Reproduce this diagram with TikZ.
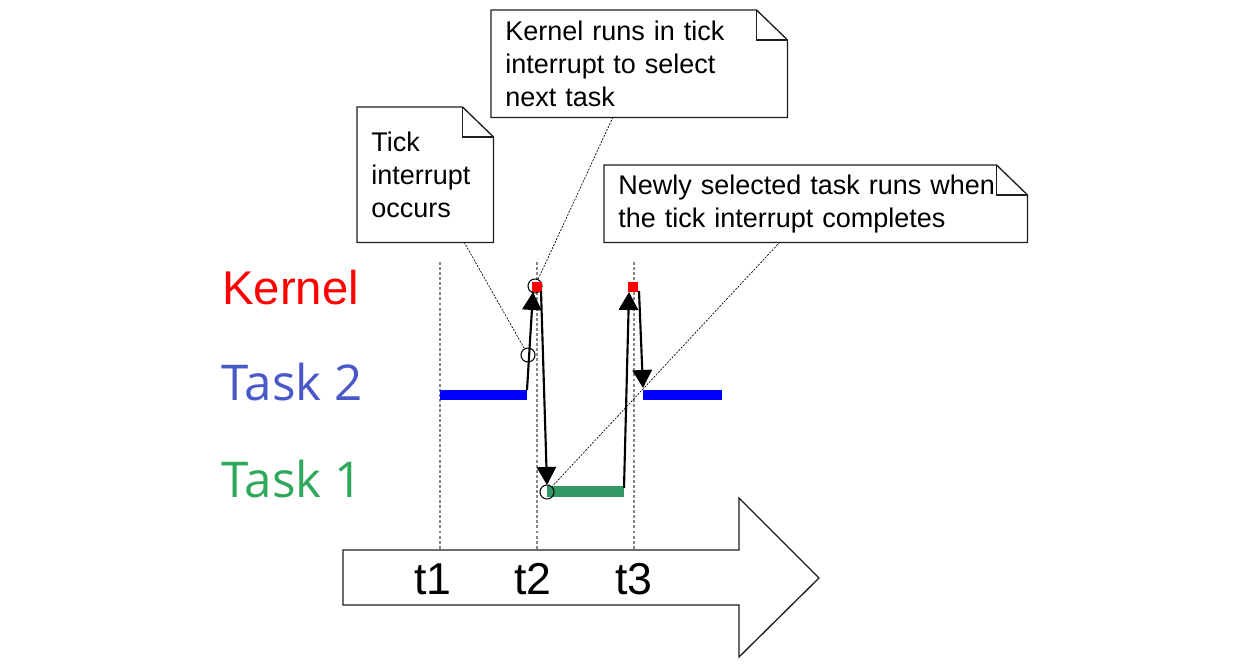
\documentclass[tikz,border=0pt]{standalone}
\usepackage{fontspec}
\setmainfont{Liberation Sans}
\newfontfamily\taskfont{Open Sans}
\usetikzlibrary{arrows.meta,calc}
\definecolor{kred}{RGB}{255,0,0}
\definecolor{ttwo}{RGB}{72,88,200}
\definecolor{tone}{RGB}{46,168,90}
\definecolor{bartwo}{RGB}{0,0,255}
\definecolor{barone}{RGB}{51,153,102}
\definecolor{guide}{RGB}{135,135,135}
\definecolor{ink}{RGB}{30,30,30}
\newcommand{\notebox}[1]{%
  \draw[noteline] (#1.north west) -- ($(#1.north east)+(-31,0)$) -- ($(#1.north east)+(0,30)$)
    -- (#1.south east) -- (#1.south west) -- cycle;
  \draw[noteline] ($(#1.north east)+(-31,0)$) -- ($(#1.north east)+(-31,30)$) -- ($(#1.north east)+(0,30)$);}
\begin{document}
\begin{tikzpicture}[x=0.75pt,y=-0.75pt,
  note/.style={anchor=north west, inner xsep=10.5pt, inner ysep=0pt, align=left,
    font=\fontsize{20.25}{24.75}\selectfont},
  noteline/.style={draw=ink, line width=1pt, line join=miter},
  rowlabel/.style={anchor=base west, inner sep=0pt},
  tlabel/.style={anchor=base, inner sep=0pt, font=\fontsize{33.5}{36}\selectfont},
  guideline/.style={draw=guide, line width=1.2pt, dash pattern=on 2.2pt off 1.6pt},
  callout/.style={draw=black, line width=0.5pt, dash pattern=on 1.5pt off 1pt},
  flow/.style={draw=black, line width=1.6pt, -{Triangle[width=14.5pt,length=13.5pt]}},
  ring/.style={circle, draw=black, line width=0.8pt, minimum size=10.5pt, inner sep=0pt},
  kbox/.style={rectangle, fill=kred, minimum size=7.5pt, inner sep=0pt},
]
\useasboundingbox (0,0) rectangle (1255,666);

% time arrow
\draw[draw=ink, line width=1pt, fill=white]
  (343,550) -- (739,550) -- (739,498) -- (819,578) -- (739,657) -- (739,605) -- (343,605) -- cycle;
\node[tlabel] (t1) at (433,594) {t1};
\node[tlabel] (t2) at (533,594) {t2};
\node[tlabel] (t3) at (634,594) {t3};

% guides
\coordinate (g1a) at (440,262); \coordinate (g1b) at (440,550);
\coordinate (g2a) at (537,262); \coordinate (g2b) at (537,550);
\coordinate (g3a) at (634,262); \coordinate (g3b) at (634,550);
\draw[guideline] (g1a) -- (g1b);
\draw[guideline] (g2a) -- (g2b);
\draw[guideline] (g3a) -- (g3b);

% row labels
\node[rowlabel, text=kred, font=\fontsize{35.5}{40}\selectfont] (lk) at (222,305) {Kernel};
\node[rowlabel, text=ttwo, font=\taskfont\fontsize{37}{40}\selectfont] (lt2) at (221,400) {Task 2};
\node[rowlabel, text=tone, font=\taskfont\fontsize{37}{40}\selectfont] (lt1) at (221,497) {Task 1};

% bars
\coordinate (b2a) at (440,395); \coordinate (b2b) at (527,395);
\coordinate (b2c) at (643,395); \coordinate (b2d) at (722,395);
\coordinate (b1a) at (547,491.5); \coordinate (b1b) at (624,491.5);
\draw[bartwo, line width=7.5pt] (b2a) -- (b2b);
\draw[bartwo, line width=7.5pt] (b2c) -- (b2d);
\draw[barone, line width=8pt] (b1a) -- (b1b);

% circles and kernel marks
\node[ring] (c1) at (528,355) {};
\node[ring] (c2) at (535,286) {};
\node[ring] (c3) at (547,492) {};
\node[kbox] (k1) at (537,287) {};
\node[kbox] (k2) at (633,287) {};

% flow arrows
\coordinate (a1s) at (527,390); \coordinate (a1e) at (533,292);
\coordinate (a2s) at (541,291); \coordinate (a2e) at (547,485);
\coordinate (a3s) at (624,488); \coordinate (a3e) at (629,292);
\coordinate (a4s) at (639,291); \coordinate (a4e) at (643,388);
\draw[flow] (a1s) -- (a1e);
\draw[flow] (a2s) -- (a2e);
\draw[flow] (a3s) -- (a3e);
\draw[flow] (a4s) -- (a4e);

% notes
\node[note, text width=81pt, minimum height=101.25pt] (ntick) at (357,107) {Tick\\interrupt\\occurs};
\notebox{ntick}
\node[note, text width=201pt, minimum height=80.25pt] (nkern) at (491,10) {Kernel runs in tick\\interrupt to select\\next task};
\notebox{nkern}
\node[note, text width=296.25pt, minimum height=57.75pt] (nnew) at (604,165) {Newly selected task runs when\\the tick interrupt completes};
\notebox{nnew}

% callouts
\coordinate (p1) at (464,242);
\coordinate (p2) at (613,117);
\coordinate (p3) at (780,242);
\draw[callout] (p1) -- (c1);
\draw[callout] (p2) -- (c2);
\draw[callout] (p3) -- (c3);
\end{tikzpicture}
\end{document}
